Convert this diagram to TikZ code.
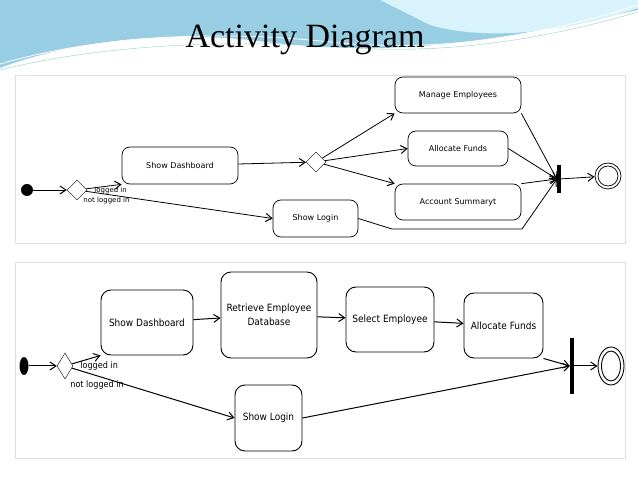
\documentclass[tikz,border=0pt]{standalone}
\usepackage{fontspec}
\setmainfont{DejaVu Sans}
\newfontfamily\titlefont{Liberation Serif}
\newfontfamily\condfont{DejaVu Sans Condensed}
\usetikzlibrary{shapes.geometric,arrows.meta}
\begin{document}
\begin{tikzpicture}[x=1pt,y=-1pt]
			\tikzset{act/.style={draw,line width=0.7pt,rectangle,rounded corners=8pt,align=center,inner sep=2pt,font=\fontsize{8}{10}\selectfont},
			actb/.style={act,line width=0.9pt,rounded corners=10pt,font=\condfont\fontsize{10}{14}\selectfont},
			dec/.style={draw,diamond,fill=white,inner sep=0pt,minimum width=20pt,minimum height=20pt},
			flow/.style={-{Straight Barb[length=6pt,width=8pt,line width=1pt]},line width=0.8pt},
			lbl/.style={font=\fontsize{7}{8}\selectfont,inner sep=0pt,anchor=west},
			lblb/.style={font=\condfont\fontsize{9}{10}\selectfont,inner sep=0pt,anchor=west},
			panel/.style={draw=gray!25,fill=white}}
			\useasboundingbox (0,0) rectangle (638,478);
			% background and title band
			\fill[white] (0,0) rectangle (638,478);
			\fill[cyan!55!teal!45] (0,0) -- (638,0) -- (638,10) .. controls (500,40) and (400,60) .. (250,40) .. controls (150,30) and (60,45) .. (0,68) -- cycle;
			\fill[cyan!15] (380,0) -- (638,0) -- (638,8) .. controls (560,35) and (480,40) .. (430,25) -- cycle;
			\draw[white,thick] (0,64) .. controls (100,35) and (220,30) .. (330,42) .. controls (450,55) and (560,30) .. (638,5);
			\draw[teal!40,thin] (0,70) .. controls (100,45) and (220,40) .. (330,46) .. controls (450,58) and (560,35) .. (638,12);
			\node[font=\titlefont\fontsize{34}{40}\selectfont] (title) at (305,40) {Activity Diagram};
			\draw[panel] (15,75) rectangle (625,243);
			\draw[panel] (15,262) rectangle (625,458);
			
			% upper diagram
			\node[circle,fill=black,minimum size=12pt,inner sep=0pt] (s1) at (27,190) {};
			\node[dec] (d1) at (77,190) {};
			\node[act,minimum width=116pt,minimum height=37pt] (dash1) at (180,165.5) {Show Dashboard};
			\node[dec] (d2) at (316,162) {};
			\node[act,minimum width=126pt,minimum height=36pt] (man) at (458,95) {Manage Employees};
			\node[act,minimum width=100pt,minimum height=35pt] (alloc1) at (458,148.5) {Allocate Funds};
			\node[act,minimum width=126pt,minimum height=36pt] (acc) at (458,202) {Account Summaryt};
			\node[act,minimum width=85pt,minimum height=37pt] (login1) at (315.5,218.5) {Show Login};
			\node[fill=black,minimum width=4pt,minimum height=28pt,inner sep=0pt] (bar1) at (559,179) {};
			\node[circle,draw,line width=0.7pt,minimum size=26pt,inner sep=0pt] (f1) at (608,176) {};
			\node[circle,draw,line width=0.7pt,minimum size=20pt,inner sep=0pt] at (f1) {};
			\node[lbl] (yes1) at ([xshift=7pt,yshift=-1pt]d1.east) {logged in};
			\node[lbl] (no1) at ([xshift=-4pt,yshift=-11pt]d1.east) {not logged in};
			
			\draw[flow] (s1) -- (d1);
			\draw[flow] (d1) -- (dash1.south west);
			\draw[flow] (d1) -- (login1.west);
			\draw[flow] (dash1) -- (d2);
			\draw[flow] (d2) -- (man.south west);
			\draw[flow] (d2) -- (alloc1.west);
			\draw[flow] (d2) -- (acc.north west);
			\draw[flow] (man.south east) -- (bar1.west);
			\draw[flow] (alloc1.east) -- (bar1.west);
			\draw[flow] (acc.north east) -- (bar1.west);
			\draw[flow] (login1.east) -- (392,229) -- (522,229) -- (bar1.west);
			\draw[flow] (bar1) -- (f1);
			
			% lower diagram
			\node[ellipse,fill=black,minimum width=9pt,minimum height=18pt,inner sep=0pt] (s2) at (24,366) {};
			\node[dec,minimum width=16pt,minimum height=26pt] (d3) at (65,366) {};
			\node[actb,minimum width=92pt,minimum height=65pt] (dash2) at (147,322.5) {Show Dashboard};
			\node[actb,minimum width=96pt,minimum height=86pt] (ret) at (269,315) {Retrieve Employee\\Database};
			\node[actb,minimum width=88pt,minimum height=65pt] (sel) at (390,319.5) {Select Employee};
			\node[actb,minimum width=79pt,minimum height=65pt] (alloc2) at (503.5,325.5) {Allocate Funds};
			\node[actb,minimum width=67pt,minimum height=66pt] (login2) at (268.5,418) {Show Login};
			\node[fill=black,minimum width=4pt,minimum height=56pt,inner sep=0pt] (bar2) at (572,366) {};
			\node[ellipse,draw,line width=0.9pt,minimum width=26pt,minimum height=38pt,inner sep=0pt] (f2) at (611,366) {};
			\node[ellipse,draw,line width=0.9pt,minimum width=19pt,minimum height=30pt,inner sep=0pt] at (f2) {};
			\node[lblb] (yes2) at ([xshift=7pt,yshift=0pt]d3.east) {logged in};
			\node[lblb] (no2) at ([xshift=-3pt,yshift=-19pt]d3.east) {not logged in};
			
			\draw[flow,line width=1pt] (s2) -- (d3);
			\draw[flow,line width=1pt] (d3) -- (dash2.south west);
			\draw[flow,line width=1pt] (d3) -- (login2.west);
			\draw[flow,line width=1pt] (dash2) -- (ret);
			\draw[flow,line width=1pt] (ret) -- (sel);
			\draw[flow,line width=1pt] (sel) -- (alloc2);
			\draw[flow,line width=1pt] (alloc2.south east) -- (bar2.west);
			\draw[flow,line width=1pt] (login2.east) -- (bar2.west);
			\draw[flow,line width=1pt] (bar2) -- (f2);
		\end{tikzpicture}
\end{document}
